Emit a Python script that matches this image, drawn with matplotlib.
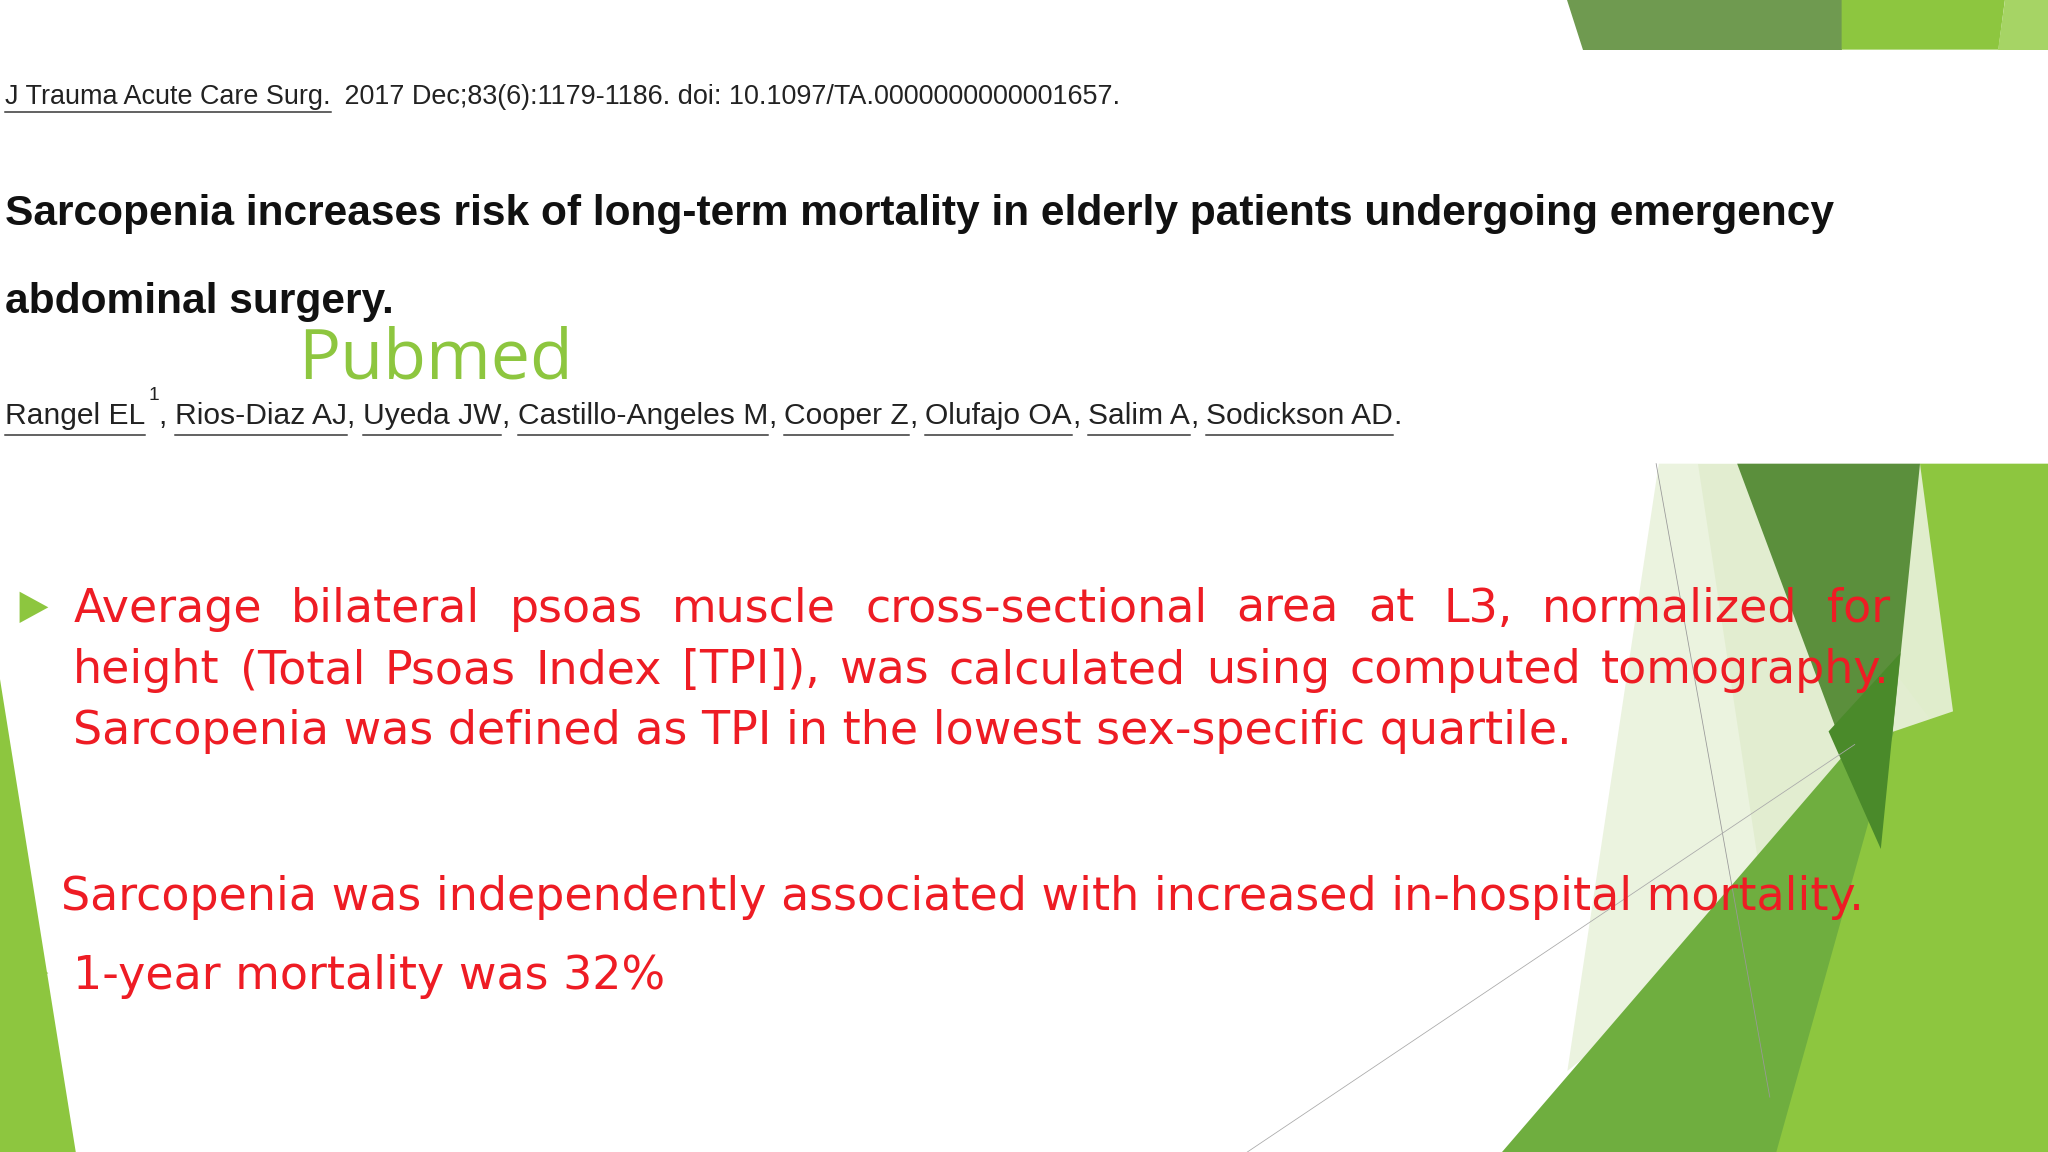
import matplotlib.pyplot as plt
from matplotlib.patches import Polygon

W, H = 1568, 882
GREEN = "#8dc63f"
RED = "#ee1c24"

citation = "J Trauma Acute Care Surg. 2017 Dec;83(6):1179-1186. doi: 10.1097/TA.0000000000001657."
journal = "J Trauma Acute Care Surg."
title_lines = ["Sarcopenia increases risk of long-term mortality in elderly patients undergoing emergency",
               "abdominal surgery."]
authors = ["Rangel EL", "Rios-Diaz AJ", "Uyeda JW", "Castillo-Angeles M", "Cooper Z",
           "Olufajo OA", "Salim A", "Sodickson AD"]
para1 = ["Average bilateral psoas muscle cross-sectional area at L3, normalized for",
         "height (Total Psoas Index [TPI]), was calculated using computed tomography.",
         "Sarcopenia was defined as TPI in the lowest sex-specific quartile."]
line2 = "Sarcopenia was independently associated with increased in-hospital mortality."
line3 = "1-year mortality was 32%"

fig = plt.figure(figsize=(2048 / 72, 1152 / 72), dpi=72)
ax = fig.add_axes([0, 0, 1, 1])
ax.set_xlim(0, W)
ax.set_ylim(H, 0)
ax.axis("off")

def poly(pts, color, alpha=1.0, z=1):
    ax.add_patch(Polygon(pts, closed=True, facecolor=color, edgecolor="none", alpha=alpha, zorder=z))

# top strip
poly([(1200, 0), (1410, 0), (1410, 38), (1212, 38)], "#6f9a50")
poly([(1410, 0), (1535, 0), (1530, 38), (1410, 38)], GREEN)
poly([(1535, 0), (1568, 0), (1568, 38), (1530, 38)], "#a6d465")
# right decoration
poly([(1300, 355), (1568, 355), (1568, 882), (1380, 882)], "#d9e9c0", 0.8)
poly([(1330, 355), (1470, 355), (1440, 650)], "#5b8f3c", z=2)
poly([(1470, 355), (1568, 355), (1568, 882), (1420, 882), (1500, 580)], GREEN, z=2)
poly([(1270, 355), (1330, 355), (1500, 580), (1200, 820)], "#e3eed2", 0.7, z=1)
poly([(1150, 882), (1410, 580), (1450, 560), (1470, 882)], "#6fae3f", z=3)
poly([(1360, 882), (1450, 560), (1568, 520), (1568, 882)], GREEN, z=3)
poly([(1400, 560), (1455, 500), (1440, 650)], "#4a8a2a", z=4)
ax.plot([1268, 1355], [355, 840], color="#999999", lw=0.8, zorder=5)
ax.plot([955, 1420], [882, 570], color="#aaaaaa", lw=0.8, zorder=5)
# left wedge
poly([(0, 520), (58, 882), (0, 882)], GREEN)

fig.canvas.draw()
r = fig.canvas.get_renderer()

def width(t):
    bb = t.get_window_extent(r)
    inv = ax.transData.inverted()
    (x0, _), (x1, _) = inv.transform([(bb.x0, 0), (bb.x1, 0)])
    return x1 - x0

def underline(t, y):
    bb = t.get_window_extent(r)
    inv = ax.transData.inverted()
    (x0, _), (x1, _) = inv.transform([(bb.x0, 0), (bb.x1, 0)])
    ax.plot([x0, x1], [y, y], color="#333333", lw=1.5)

narrow = ["Liberation Sans Narrow", "Liberation Sans", "DejaVu Sans"]

# citation
t = ax.text(4, 80, journal, family=narrow, fontsize=27, color="#222222", va="baseline")
w = width(t)
underline(t, 86)
ax.text(4 + w + 5, 80, citation[len(journal):], family=narrow, fontsize=27,
        color="#222222", va="baseline")

for i, ln in enumerate(title_lines):
    ax.text(4, 172 + 68 * i, ln, family=narrow, fontsize=42.5, weight="bold",
            color="#111111", va="baseline")

ax.text(228, 290, "Pubmed", family=["Open Sans", "DejaVu Sans"], fontsize=70,
        color=GREEN, va="baseline")

x = 4
for i, a in enumerate(authors):
    t = ax.text(x, 325, a, family=narrow, fontsize=30, color="#222222", va="baseline")
    w = width(t)
    underline(t, 333)
    x += w
    if i == 0:
        ax.text(x + 2, 306, "1", family=narrow, fontsize=19, color="#222222", va="baseline")
        x += 10
    sep = "," if i < len(authors) - 1 else "."
    t = ax.text(x, 325, sep, family=narrow, fontsize=30, color="#222222", va="baseline")
    x += width(t) + 6

body = ["DejaVu Sans"]
fs = 46

def justify(line, y, x0, x1):
    words = line.split()
    ts = [ax.text(0, y, wd, family=body, fontsize=fs, color=RED, va="baseline", zorder=6)
          for wd in words]
    ws = [width(t) for t in ts]
    gap = (x1 - x0 - sum(ws)) / (len(words) - 1)
    xx = x0
    for t, wd in zip(ts, ws):
        t.set_x(xx)
        xx += wd + gap

def bullet(y):
    poly([(15, y - 12), (15, y + 12), (37, y)], GREEN, z=6)

bullet(465)
justify(para1[0], 476, 56, 1447)
justify(para1[1], 523, 56, 1447)
ax.text(56, 570, para1[2], family=body, fontsize=fs, color=RED, va="baseline", zorder=6)
ax.text(47, 697, line2, family=body, fontsize=fs, color=RED, va="baseline", zorder=6)
bullet(745)
ax.text(56, 757, line3, family=body, fontsize=fs, color=RED, va="baseline", zorder=6)

fig.savefig("out.png", dpi=72, facecolor="white")
